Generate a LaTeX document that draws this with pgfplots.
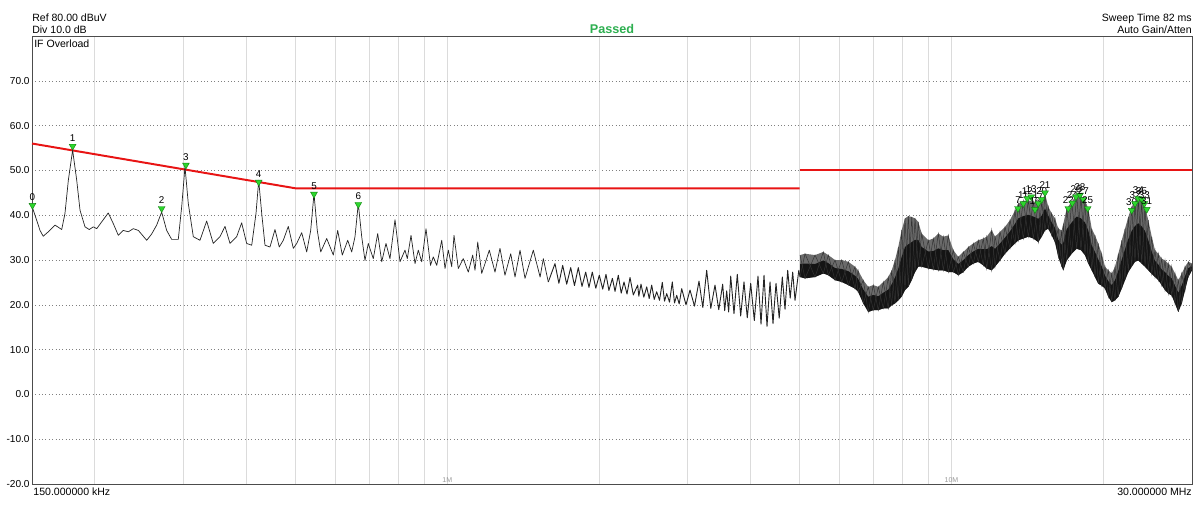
\documentclass[border=0pt]{standalone}
\usepackage{pgfplots}
\pgfplotsset{compat=1.18}
\usepgfplotslibrary{fillbetween}
\usepackage{fontspec}
\setmainfont{Liberation Sans}

\definecolor{limitred}{RGB}{232,20,20}
\definecolor{mkfill}{RGB}{45,215,45}
\definecolor{mkdraw}{RGB}{20,130,20}
\definecolor{passgreen}{RGB}{45,175,80}
\definecolor{trace}{RGB}{35,35,35}

\begin{document}
\begin{tikzpicture}[font=\fontsize{7.5}{9}\selectfont]
\begin{axis}[
    scale only axis,
    width=290mm, height=112mm,
    xmode=log,
    xmin=0.15, xmax=30,
    ymin=-20, ymax=80,
    xtick={0.2,0.3,0.4,0.5,0.6,0.7,0.8,0.9,1,2,3,4,5,6,7,8,9,10,20},
    xticklabels={},
    extra x ticks={0.2,0.3,0.4,0.5,0.6,0.7,0.8,0.9,1,2,3,4,5,6,7,8,9,10,20},
    extra x tick labels={},
    extra x tick style={major grid style={black!55, dotted, line width=0.4pt}},
    ytick={-20,-10,0,10,20,30,40,50,60,70},
    yticklabel style={/pgf/number format/fixed, /pgf/number format/fixed zerofill,
        /pgf/number format/precision=1, /pgf/number format/assume math mode=true,
        font=\fontsize{7.2}{8}\selectfont, inner sep=1.5pt},
    major tick length=0pt,
    grid=major,
    major x grid style={gray!28, line width=0.7pt},
    major y grid style={black!50, dotted, line width=0.4pt},
    axis line style={black!70, line width=0.6pt},
    clip=false,
]

% limit lines
\addplot[limitred, line width=1.4pt] coordinates {(0.15,56) (0.5,46) (5,46)};
\addplot[limitred, line width=1.4pt] coordinates {(5,50) (30,50)};

% trace 150 kHz - 1.6 MHz
\addplot[trace, line width=0.5pt, line join=round] coordinates {
(0.1500,42.0) (0.1509,41.1) (0.1532,38.9) (0.1556,36.6) (0.1579,35.3) (0.1616,36.3)
(0.1666,37.8) (0.1718,36.8) (0.1744,40.4) (0.1771,47.8) (0.1806,54.5) (0.1840,47.8)
(0.1868,41.1) (0.1911,37.4) (0.1949,36.8) (0.1985,37.4) (0.2016,37.0) (0.2062,38.5)
(0.2125,40.5) (0.2175,38.1) (0.2225,35.5) (0.2276,36.6) (0.2329,36.3) (0.2383,37.0)
(0.2438,36.6) (0.2494,35.3) (0.2533,34.4) (0.2591,35.8) (0.2651,37.8) (0.2712,40.7)
(0.2775,36.6) (0.2839,34.6) (0.2926,34.6) (0.2972,41.9) (0.3017,50.8) (0.3063,42.6)
(0.3134,35.2) (0.3231,34.4) (0.3331,38.7) (0.3433,33.7) (0.3540,35.2) (0.3622,37.5)
(0.3706,33.7) (0.3821,35.2) (0.3909,38.3) (0.3999,33.7) (0.4092,33.3) (0.4173,40.4)
(0.4225,47.8) (0.4283,40.4) (0.4348,33.3) (0.4448,32.9) (0.4551,36.8) (0.4641,32.9)
(0.4727,34.4) (0.4836,37.5) (0.4948,32.6) (0.5026,33.7) (0.5142,36.1) (0.5260,31.8)
(0.5357,36.6) (0.5438,44.8) (0.5521,36.6) (0.5608,31.8) (0.5764,34.8) (0.5940,31.1)
(0.6060,36.6) (0.6189,31.1) (0.6344,34.4) (0.6461,31.8) (0.6559,35.2) (0.6658,42.6)
(0.6763,35.2) (0.6865,29.9) (0.6969,33.7) (0.7130,30.3) (0.7275,35.9) (0.7410,29.6)
(0.7556,33.7) (0.7696,30.3) (0.7874,39.0) (0.8055,29.6) (0.8241,32.2) (0.8329,30.3)
(0.8471,35.5) (0.8627,29.2) (0.8758,32.2) (0.8895,29.6) (0.9071,37.0) (0.9259,28.8)
(0.9379,30.7) (0.9526,28.8) (0.9746,34.4) (0.9894,28.1) (1.0044,32.2) (1.0201,28.5)
(1.0308,35.5) (1.0513,28.1) (1.0755,30.3) (1.1004,27.3) (1.1227,31.1) (1.1346,27.7)
(1.1488,34.0) (1.1699,27.0) (1.1877,29.2) (1.2112,32.2) (1.2431,27.3) (1.2718,32.6)
(1.3010,26.6) (1.3358,31.4) (1.3622,26.2) (1.3936,32.2) (1.4258,25.9) (1.4808,32.2)
(1.5276,26.2) (1.5502,30.3) (1.5858,25.1)
};
% trace 1.6 - 5 MHz, denser comb
\addplot[trace, line width=0.65pt, line join=round] coordinates {
(1.5858,25.1)
(1.6351,29.2) (1.6645,24.8) (1.6936,28.8) (1.7248,24.6) (1.7566,28.3) (1.7874,24.3)
(1.8187,28.3) (1.8497,24.1) (1.8812,27.3) (1.9098,23.9) (1.9388,27.3) (1.9699,23.7)
(2.0018,26.6) (2.0331,23.5) (2.0639,26.8) (2.0916,23.2) (2.1252,25.9) (2.1507,23.0)
(2.1833,26.6) (2.2123,22.6) (2.2409,25.1) (2.2717,22.4) (2.3032,26.1) (2.3381,22.2)
(2.3853,24.4) (2.3976,21.9) (2.4217,24.6) (2.4530,21.7) (2.4857,24.0) (2.5143,21.4)
(2.5430,24.4) (2.5724,21.2) (2.6017,22.9) (2.6355,21.0) (2.6691,25.0) (2.6963,20.8)
(2.7233,22.5) (2.7586,20.6) (2.7938,25.1) (2.8223,20.4) (2.8506,22.1) (2.8835,20.2)
(2.9164,23.6) (2.9744,20.0) (3.0294,23.3) (3.0922,19.7) (3.1565,25.3) (3.2114,19.4)
(3.2692,27.7) (3.3312,19.2) (3.3957,24.4) (3.4546,18.9) (3.5169,24.6) (3.5496,18.7)
(3.5820,23.1) (3.6144,18.4) (3.6482,26.4) (3.7037,18.0) (3.7597,26.8) (3.8187,17.5)
(3.8768,25.1) (3.9354,17.1) (3.9972,24.8) (4.0635,16.5) (4.1323,26.4) (4.1897,15.7)
(4.2475,26.6) (4.3060,15.2) (4.3656,25.1) (4.4256,15.8) (4.4868,24.8) (4.5529,17.0)
(4.6175,26.2) (4.6752,19.0) (4.7330,27.7) (4.7876,21.5) (4.8423,27.3) (4.8937,21.0)
(4.9790,27.7) (5.0068,26.2)
};

% 5 - 30 MHz: dense band, read as upper / core / lower envelopes
\addplot[draw=none, name path=upper] coordinates {
(5.0068,31.1) (5.1223,31.4) (5.3618,31.1) (5.5690,31.8) (5.6972,31.1) (5.8747,30.0)
(6.0572,30.0) (6.2428,29.6) (6.4366,28.5) (6.5285,27.7) (6.6853,25.5) (6.8385,24.0)
(6.9977,24.4) (7.1595,24.0) (7.3249,25.1) (7.4942,26.2) (7.6114,27.7) (7.7269,30.0)
(7.8445,32.9) (7.9671,36.7) (8.0880,39.3) (8.2106,39.8) (8.3392,39.6) (8.4660,39.3)
(8.5941,38.5) (8.7290,35.9) (8.9957,34.4) (9.2040,34.8) (9.4163,35.9) (9.6339,35.2)
(9.8565,35.5) (10.084,32.2) (10.317,30.7) (10.555,31.8) (10.799,32.9) (11.048,33.7)
(11.303,34.4) (11.565,34.8) (11.746,35.2) (12.018,36.7) (12.200,35.2) (12.481,36.3)
(12.769,37.4) (13.065,38.9) (13.367,41.1) (13.570,42.6) (13.883,43.2) (14.203,43.3)
(14.532,43.0) (14.868,42.6) (15.101,43.0) (15.329,44.8) (15.562,41.9) (15.806,40.4)
(16.045,39.3) (16.290,37.0) (16.545,36.6) (16.666,38.1) (16.927,41.5) (17.318,43.0)
(17.718,44.5) (18.068,44.1) (18.402,43.3) (18.682,41.5) (18.975,37.0) (19.262,35.5)
(19.555,33.7) (19.862,31.4) (20.163,28.5) (20.469,27.7) (20.790,27.0) (21.104,28.5)
(21.426,31.4) (21.761,34.4) (22.091,37.0) (22.427,39.6) (22.778,41.9) (23.123,43.0)
(23.475,43.7) (23.842,43.0) (24.203,41.9) (24.572,38.9) (24.957,35.2) (25.335,32.2)
(25.720,31.4) (26.123,30.3) (26.519,29.9) (26.922,29.2) (27.343,28.5) (27.758,27.0)
(28.181,25.5) (28.620,27.0) (29.053,28.5) (29.497,29.6) (30.0,29.2)
};
\addplot[draw=none, name path=core] coordinates {
(5.0068,29.1) (5.1223,29.2) (5.3618,29.1) (5.5690,29.9) (5.6972,29.3) (5.8747,28.2)
(6.0572,28.0) (6.2428,27.5) (6.4366,26.5) (6.5285,25.8) (6.6853,23.4) (6.8385,21.8)
(6.9977,22.2) (7.1595,21.9) (7.3249,22.7) (7.4942,23.4) (7.6114,24.6) (7.7269,26.1)
(7.8445,28.1) (7.9671,30.7) (8.0880,32.9) (8.2106,33.5) (8.3392,34.0) (8.4660,34.5)
(8.5941,34.5) (8.7290,32.9) (8.9957,31.9) (9.2040,32.0) (9.4163,32.6) (9.6339,32.2)
(9.8565,32.2) (10.084,30.2) (10.317,29.1) (10.555,30.0) (10.799,31.1) (11.048,31.9)
(11.303,32.5) (11.565,32.4) (11.746,32.4) (12.018,33.1) (12.200,32.5) (12.481,33.7)
(12.769,35.0) (13.065,36.4) (13.367,38.1) (13.570,39.3) (13.883,39.8) (14.203,40.1)
(14.532,39.7) (14.868,39.2) (15.101,39.9) (15.329,41.5) (15.562,39.9) (15.806,38.4)
(16.045,37.2) (16.290,34.5) (16.545,33.4) (16.666,33.9) (16.927,36.9) (17.318,38.4)
(17.718,39.7) (18.068,39.3) (18.402,38.4) (18.682,36.6) (18.975,33.3) (19.262,31.8)
(19.555,30.1) (19.862,28.6) (20.163,26.5) (20.469,25.3) (20.790,24.4) (21.104,25.5)
(21.426,27.6) (21.761,30.1) (22.091,32.4) (22.427,34.7) (22.778,36.5) (23.123,37.6)
(23.475,38.2) (23.842,37.5) (24.203,36.5) (24.572,34.4) (24.957,31.9) (25.335,29.8)
(25.720,29.0) (26.123,27.9) (26.519,27.3) (26.922,26.5) (27.343,25.9) (27.758,24.3)
(28.181,22.7) (28.620,24.3) (29.053,26.4) (29.497,28.2) (30.0,28.6)
};
\addplot[draw=none, name path=lower] coordinates {
(5.0068,26.2) (5.1223,25.9) (5.3618,26.2) (5.5690,27.0) (5.6972,26.6) (5.8747,25.5)
(6.0572,25.1) (6.2428,24.4) (6.4366,23.6) (6.5285,22.9) (6.6853,20.3) (6.8385,18.4)
(6.9977,18.8) (7.1595,18.8) (7.3249,19.2) (7.4942,19.2) (7.6114,19.9) (7.7269,20.3)
(7.8445,21.0) (7.9671,21.8) (8.0880,23.3) (8.2106,24.0) (8.3392,25.5) (8.4660,27.3)
(8.5941,28.5) (8.7290,28.5) (8.9957,28.1) (9.2040,27.9) (9.4163,27.7) (9.6339,27.7)
(9.8565,27.3) (10.084,27.3) (10.317,26.6) (10.555,27.3) (10.799,28.5) (11.048,29.2)
(11.303,29.6) (11.565,28.8) (11.746,28.1) (12.018,27.7) (12.200,28.5) (12.481,29.9)
(12.769,31.4) (13.065,32.6) (13.367,33.7) (13.570,34.4) (13.883,34.8) (14.203,35.2)
(14.532,34.8) (14.868,34.0) (15.101,35.2) (15.329,36.6) (15.562,37.0) (15.806,35.5)
(16.045,34.0) (16.290,30.7) (16.545,28.5) (16.666,27.7) (16.927,29.9) (17.318,31.4)
(17.718,32.5) (18.068,32.2) (18.402,31.1) (18.682,29.2) (18.975,27.7) (19.262,26.2)
(19.555,24.7) (19.862,24.3) (20.163,23.6) (20.469,21.8) (20.790,20.6) (21.104,21.0)
(21.426,21.8) (21.761,23.6) (22.091,25.5) (22.427,27.3) (22.778,28.5) (23.123,29.6)
(23.475,29.9) (23.842,29.2) (24.203,28.5) (24.572,27.7) (24.957,26.9) (25.335,26.2)
(25.720,25.5) (26.123,24.4) (26.519,23.3) (26.922,22.5) (27.343,22.1) (27.758,20.3)
(28.181,18.4) (28.620,20.3) (29.053,23.2) (29.497,26.2) (30.0,27.7)
};
\addplot[black!58] fill between[of=upper and lower];
\addplot[black!92] fill between[of=core and lower];

% sweep texture inside the band: the same envelope readings, alternated
\addplot[black!80, line width=0.35pt] coordinates {
(5.0068,31.1) (5.1223,25.9) (5.3618,31.1) (5.5690,27.0) (5.6972,31.1) (5.8747,25.5)
(6.0572,30.0) (6.2428,24.4) (6.4366,28.5) (6.5285,22.9) (6.6853,25.5) (6.8385,18.4)
(6.9977,24.4) (7.1595,18.8) (7.3249,25.1) (7.4942,19.2) (7.6114,27.7) (7.7269,20.3)
(7.8445,32.9) (7.9671,21.8) (8.0880,39.3) (8.2106,24.0) (8.3392,39.6) (8.4660,27.3)
(8.5941,38.5) (8.7290,28.5) (8.9957,34.4) (9.2040,27.9) (9.4163,35.9) (9.6339,27.7)
(9.8565,35.5) (10.084,27.3) (10.317,30.7) (10.555,27.3) (10.799,32.9) (11.048,29.2)
(11.303,34.4) (11.565,28.8) (11.746,35.2) (12.018,27.7) (12.200,35.2) (12.481,29.9)
(12.769,37.4) (13.065,32.6) (13.367,41.1) (13.570,34.4) (13.883,43.2) (14.203,35.2)
(14.532,43.0) (14.868,34.0) (15.101,43.0) (15.329,36.6) (15.562,41.9) (15.806,35.5)
(16.045,39.3) (16.290,30.7) (16.545,36.6) (16.666,27.7) (16.927,41.5) (17.318,31.4)
(17.718,44.5) (18.068,32.2) (18.402,43.3) (18.682,29.2) (18.975,37.0) (19.262,26.2)
(19.555,33.7) (19.862,24.3) (20.163,28.5) (20.469,21.8) (20.790,27.0) (21.104,21.0)
(21.426,31.4) (21.761,23.6) (22.091,37.0) (22.427,27.3) (22.778,41.9) (23.123,29.6)
(23.475,43.7) (23.842,29.2) (24.203,41.9) (24.572,27.7) (24.957,35.2) (25.335,26.2)
(25.720,31.4) (26.123,24.4) (26.519,29.9) (26.922,22.5) (27.343,28.5) (27.758,20.3)
(28.181,25.5) (28.620,20.3) (29.053,28.5) (29.497,26.2) (30.0,29.2)
};
\addplot[black!80, line width=0.35pt] coordinates {
(5.0068,26.2) (5.1223,31.4) (5.3618,26.2) (5.5690,31.8) (5.6972,26.6) (5.8747,30.0)
(6.0572,25.1) (6.2428,29.6) (6.4366,23.6) (6.5285,27.7) (6.6853,20.3) (6.8385,24.0)
(6.9977,18.8) (7.1595,24.0) (7.3249,19.2) (7.4942,26.2) (7.6114,19.9) (7.7269,30.0)
(7.8445,21.0) (7.9671,36.7) (8.0880,23.3) (8.2106,39.8) (8.3392,25.5) (8.4660,39.3)
(8.5941,28.5) (8.7290,35.9) (8.9957,28.1) (9.2040,34.8) (9.4163,27.7) (9.6339,35.2)
(9.8565,27.3) (10.084,32.2) (10.317,26.6) (10.555,31.8) (10.799,28.5) (11.048,33.7)
(11.303,29.6) (11.565,34.8) (11.746,28.1) (12.018,36.7) (12.200,28.5) (12.481,36.3)
(12.769,31.4) (13.065,38.9) (13.367,33.7) (13.570,42.6) (13.883,34.8) (14.203,43.3)
(14.532,34.8) (14.868,42.6) (15.101,35.2) (15.329,44.8) (15.562,37.0) (15.806,40.4)
(16.045,34.0) (16.290,37.0) (16.545,28.5) (16.666,38.1) (16.927,29.9) (17.318,43.0)
(17.718,32.5) (18.068,44.1) (18.402,31.1) (18.682,41.5) (18.975,27.7) (19.262,35.5)
(19.555,24.7) (19.862,31.4) (20.163,23.6) (20.469,27.7) (20.790,20.6) (21.104,28.5)
(21.426,21.8) (21.761,34.4) (22.091,25.5) (22.427,39.6) (22.778,28.5) (23.123,43.0)
(23.475,29.9) (23.842,43.0) (24.203,28.5) (24.572,38.9) (24.957,26.9) (25.335,32.2)
(25.720,25.5) (26.123,30.3) (26.519,23.3) (26.922,29.2) (27.343,22.1) (27.758,27.0)
(28.181,18.4) (28.620,27.0) (29.053,23.2) (29.497,29.6) (30.0,27.7)
};

% peak markers
\addplot[only marks, mark=triangle*, mark size=2.8pt,
    mark options={rotate=180, fill=mkfill, draw=mkdraw, line width=0.3pt},
    nodes near coords, point meta=explicit symbolic,
    every node near coord/.append style={anchor=south, inner sep=0pt, yshift=3.1pt,
        font=\fontsize{7}{8}\selectfont, text=black}]
coordinates {
(0.1503,42.2)[0] (0.1806,55.4)[1] (0.2712,41.5)[2] (0.3030,51.2)[3]
(0.4225,47.4)[4] (0.5438,44.7)[5] (0.6658,42.4)[6]
(13.549,41.5)[7] (13.883,42.6)[11] (14.139,43.7)[12] (14.393,44.1)[13]
(14.645,41.3)[16] (14.868,42.6)[17] (15.101,43.5)[20] (15.329,45.0)[21]
(17.051,41.5)[22] (17.366,42.7)[24] (17.659,44.1)[26] (17.986,44.5)[28]
(18.260,43.5)[27] (18.631,41.5)[25]
(22.778,41.1)[30] (23.123,42.6)[32] (23.475,43.7)[34] (23.842,43.5)[35]
(24.127,42.6)[33] (24.393,41.3)[31]
};

\node[anchor=base, inner sep=0pt, text=black!40, font=\fontsize{5}{6}\selectfont] at (axis cs:1,-19.6) {1M};
\node[anchor=base, inner sep=0pt, text=black!40, font=\fontsize{5}{6}\selectfont] at (axis cs:10,-19.6) {10M};
\end{axis}

\node[anchor=base west, inner sep=0pt] at ([yshift=3.6mm]current axis.north west) {Ref 80.00 dBuV};
\node[anchor=base west, inner sep=0pt] at ([yshift=0.75mm]current axis.north west) {Div 10.0 dB};
\node[anchor=base west, inner sep=0pt] at ([xshift=0.5mm,yshift=-2.9mm]current axis.north west) {IF Overload};
\node[anchor=base, inner sep=0pt, text=passgreen, font=\fontsize{9}{10}\selectfont\bfseries] at ([yshift=0.75mm]current axis.north) {Passed};
\node[anchor=base east, inner sep=0pt] at ([yshift=3.6mm]current axis.north east) {Sweep Time 82 ms};
\node[anchor=base east, inner sep=0pt] at ([yshift=0.75mm]current axis.north east) {Auto Gain/Atten};
\node[anchor=base west, inner sep=0pt] at ([xshift=0.3mm,yshift=-2.75mm]current axis.south west) {150.000000 kHz};
\node[anchor=base east, inner sep=0pt] at ([yshift=-2.75mm]current axis.south east) {30.000000 MHz};

\pgfresetboundingbox
\path ([shift={(-8mm,-5.75mm)}]current axis.south west) rectangle ([shift={(2mm,9mm)}]current axis.north east);
\end{tikzpicture}
\end{document}
